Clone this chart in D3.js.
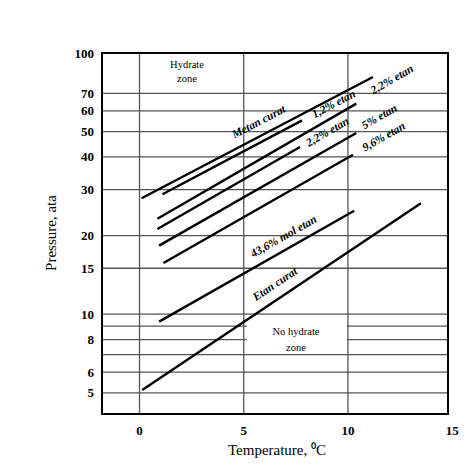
<!DOCTYPE html>
<html><head><meta charset="utf-8">
<script src="https://cdn.jsdelivr.net/npm/d3@7"></script>
<style>body{margin:0;background:#fff}text{font-family:"Liberation Serif",serif}</style>
</head><body><svg id="c" width="474" height="476"></svg>
<script>
const xTicks=[0,5,10,15];
const yTicks=[5,6,8,10,15,20,30,40,50,60,70,100];
const yGrid=[5,6,7,8,9,10,15,20,30,40,50,60,70];
const seriesNames=["Metan curat","1,2% etan","2,2% etan","2,2% etan","5% etan","9,6% etan","43,6% mol etan","Etan curat"];
const seriesT=[[0.1,11.2],[1.1,7.8],[0.86,10.4],[0.86,7.7],[0.94,10.4],[1.15,10.24],[0.94,10.3],[0.13,13.5]];
const seriesP=[[27.8,80.9],[28.8,55.2],[23.2,64],[21.2,43.7],[18.3,49.4],[15.7,40.8],[9.37,24.9],[5.13,26.6]];
// label anchor (T,P)
const labelT=[5.8,9.4,12.2,9.1,11.6,11.8,7.0,6.6];
const labelP=[53,62,77,48.5,55.5,46.5,19.3,12.7];

const svg=d3.select("#c");
const x=d3.scaleLinear().domain([-1.8,14.8]).range([102,448]);
const y=d3.scaleLog().domain([4.15,100]).range([414,53]);
const g=svg.append("g");
g.selectAll(".hg").data(yGrid).join("line").attr("x1",102).attr("x2",448)
 .attr("y1",d=>y(d)).attr("y2",d=>y(d)).attr("stroke","#555").attr("stroke-width",1.3);
g.selectAll(".vg").data([0,5,10]).join("line").attr("y1",53).attr("y2",414)
 .attr("x1",d=>x(d)).attr("x2",d=>x(d)).attr("stroke","#555").attr("stroke-width",1.3);
svg.append("rect").attr("x",x(5)+3).attr("y",y(9.1)).attr("width",x(10)-x(5)-4).attr("height",y(6.95)-y(9.1)-2).attr("fill","#fff");
svg.append("rect").attr("x",102).attr("y",53).attr("width",346).attr("height",361).attr("fill","none").attr("stroke","#000").attr("stroke-width",2);
svg.selectAll(".yl").data(yTicks).join("text").attr("x",94).attr("y",d=>y(d)+4.5).attr("text-anchor","end")
 .attr("font-weight","bold").attr("font-size",13).text(d=>d);
svg.selectAll(".xl").data(xTicks).join("text").attr("x",d=>x(d)).attr("y",435).attr("text-anchor","middle")
 .attr("font-weight","bold").attr("font-size",13).text(d=>d);
svg.append("text").attr("x",277).attr("y",455).attr("text-anchor","middle").attr("font-size",15).text("Temperature, ⁰C");
svg.append("text").attr("transform","translate(56,233) rotate(-90)").attr("text-anchor","middle").attr("font-size",15).text("Pressure, ata");
svg.selectAll(".ln").data(seriesT).join("line")
 .attr("x1",d=>x(d[0])).attr("x2",d=>x(d[1]))
 .attr("y1",(d,i)=>y(seriesP[i][0])).attr("y2",(d,i)=>y(seriesP[i][1]))
 .attr("stroke","#000").attr("stroke-width",2.4);
seriesNames.forEach((n,i)=>{
 const ang=Math.atan2(y(seriesP[i][1])-y(seriesP[i][0]),x(seriesT[i][1])-x(seriesT[i][0]))*180/Math.PI;
 svg.append("text").attr("transform",`translate(${x(labelT[i])},${y(labelP[i])}) rotate(${ang})`)
  .attr("text-anchor","middle").attr("font-size",11.5).attr("font-style","italic").attr("font-weight","bold").text(n);
});
svg.append("text").attr("x",187).attr("y",68).attr("text-anchor","middle").attr("font-size",10.5).text("Hydrate");
svg.append("text").attr("x",187).attr("y",82).attr("text-anchor","middle").attr("font-size",10.5).text("zone");
svg.append("text").attr("x",296).attr("y",335).attr("text-anchor","middle").attr("font-size",10.5).text("No hydrate");
svg.append("text").attr("x",296).attr("y",351).attr("text-anchor","middle").attr("font-size",10.5).text("zone");
</script></body></html>
